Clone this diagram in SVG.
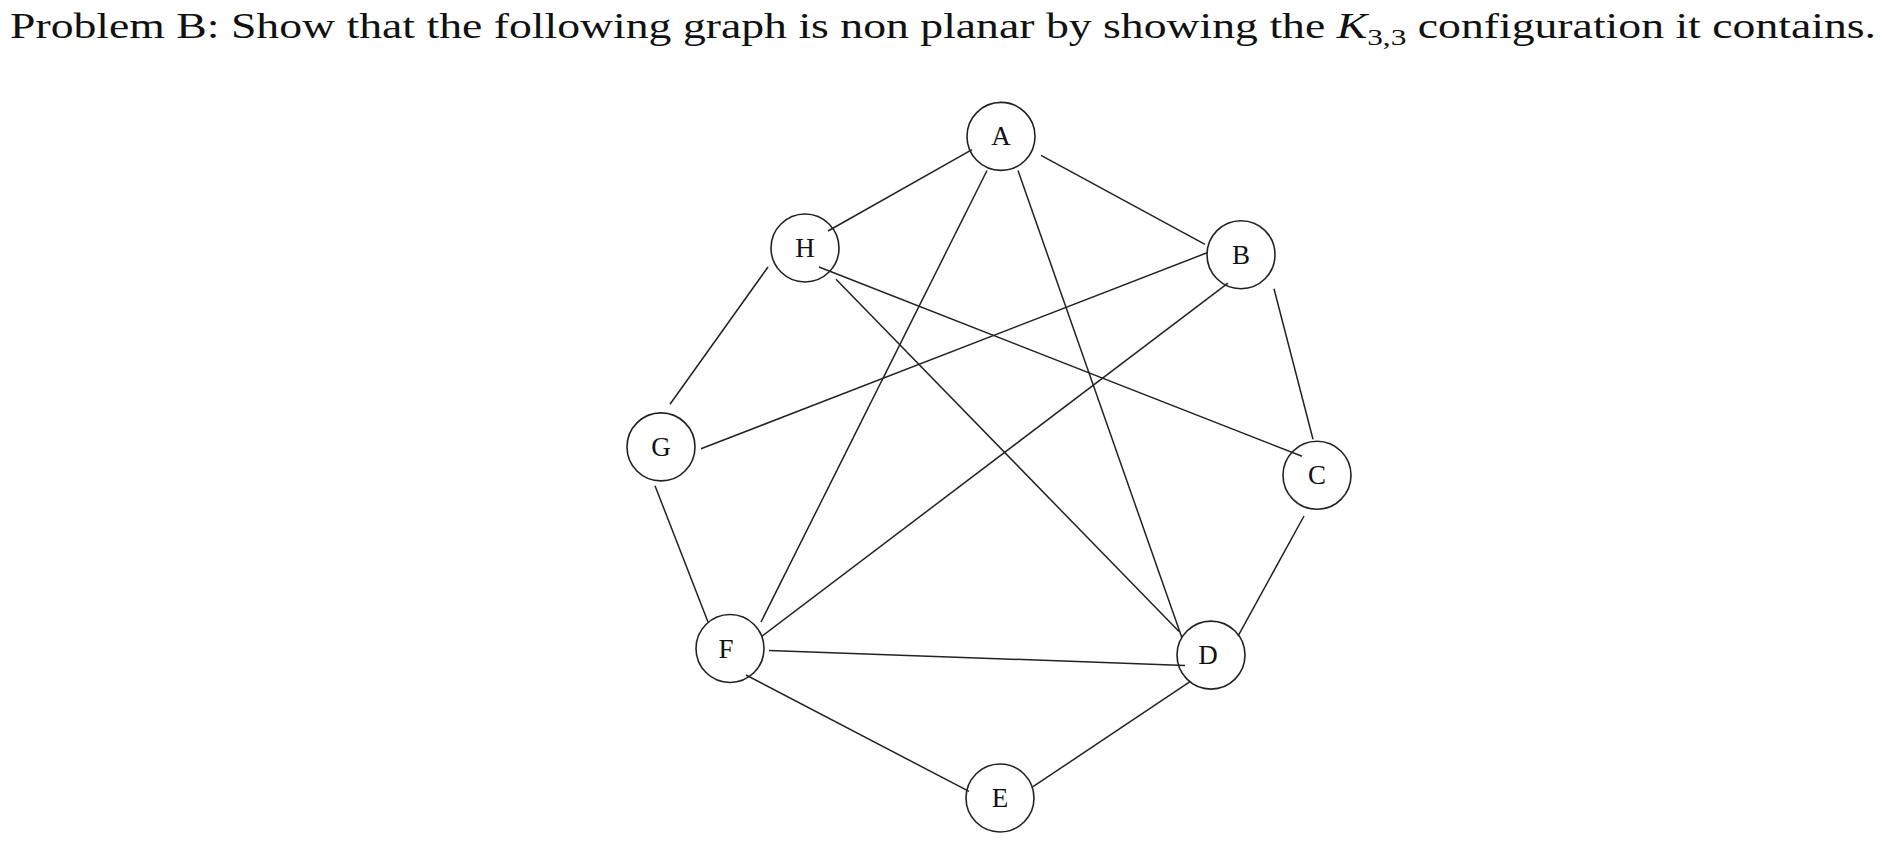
<svg xmlns="http://www.w3.org/2000/svg" width="1886" height="864" viewBox="0 0 1886 864">
<style>
.n circle{fill:none;stroke:#222;stroke-width:1.6}
.n text{font-family:"Liberation Serif",serif;font-size:27px;text-anchor:middle;fill:#111}
#edges line{stroke:#222;stroke-width:1.5}
.t{font-family:"Liberation Serif",serif;font-size:35px;fill:#111}
</style>
<rect width="1886" height="864" fill="#fff"/>
<text class="t" x="10" y="38" textLength="1866" lengthAdjust="spacingAndGlyphs">Problem B: Show that the following graph is non planar by showing the <tspan font-style="italic">K</tspan><tspan font-size="24" dy="7">3,3</tspan><tspan dy="-7"> configuration it contains.</tspan></text>
<g id="edges">
<line x1="972" y1="149.6" x2="828" y2="231"/>
<line x1="1041" y1="155.3" x2="1205" y2="244.3"/>
<line x1="987" y1="170.5" x2="761" y2="622"/>
<line x1="1018" y1="170.5" x2="1182" y2="638.1"/>
<line x1="768" y1="267" x2="670" y2="404.3"/>
<line x1="819" y1="267" x2="1302" y2="456.3"/>
<line x1="836" y1="279.3" x2="1179" y2="631.5"/>
<line x1="1207" y1="252.8" x2="701" y2="448.8"/>
<line x1="1228" y1="283.1" x2="762" y2="636.2"/>
<line x1="1274" y1="288.8" x2="1313" y2="439.3"/>
<line x1="655" y1="485.7" x2="708" y2="622"/>
<line x1="1304" y1="516" x2="1238" y2="636.2"/>
<line x1="769" y1="650.4" x2="1185" y2="665.5"/>
<line x1="746" y1="675" x2="969" y2="791.4"/>
<line x1="1190" y1="681.6" x2="1033" y2="786.7"/>
</g>
<g id="A" class="n"><circle cx="1001" cy="136.4" r="34"/><text x="1001" y="145.4">A</text></g>
<g id="H" class="n"><circle cx="805" cy="248" r="34"/><text x="805" y="257">H</text></g>
<g id="B" class="n"><circle cx="1241" cy="254.7" r="34"/><text x="1241" y="263.7">B</text></g>
<g id="G" class="n"><circle cx="661" cy="446.9" r="34"/><text x="661" y="455.9">G</text></g>
<g id="C" class="n"><circle cx="1317" cy="475.3" r="34"/><text x="1317" y="484.3">C</text></g>
<g id="F" class="n"><circle cx="730" cy="648.5" r="34"/><text x="726" y="657.5">F</text></g>
<g id="D" class="n"><circle cx="1211" cy="655.1" r="34"/><text x="1208" y="664.1">D</text></g>
<g id="E" class="n"><circle cx="1000" cy="798" r="34"/><text x="1000" y="807">E</text></g>
</svg>
